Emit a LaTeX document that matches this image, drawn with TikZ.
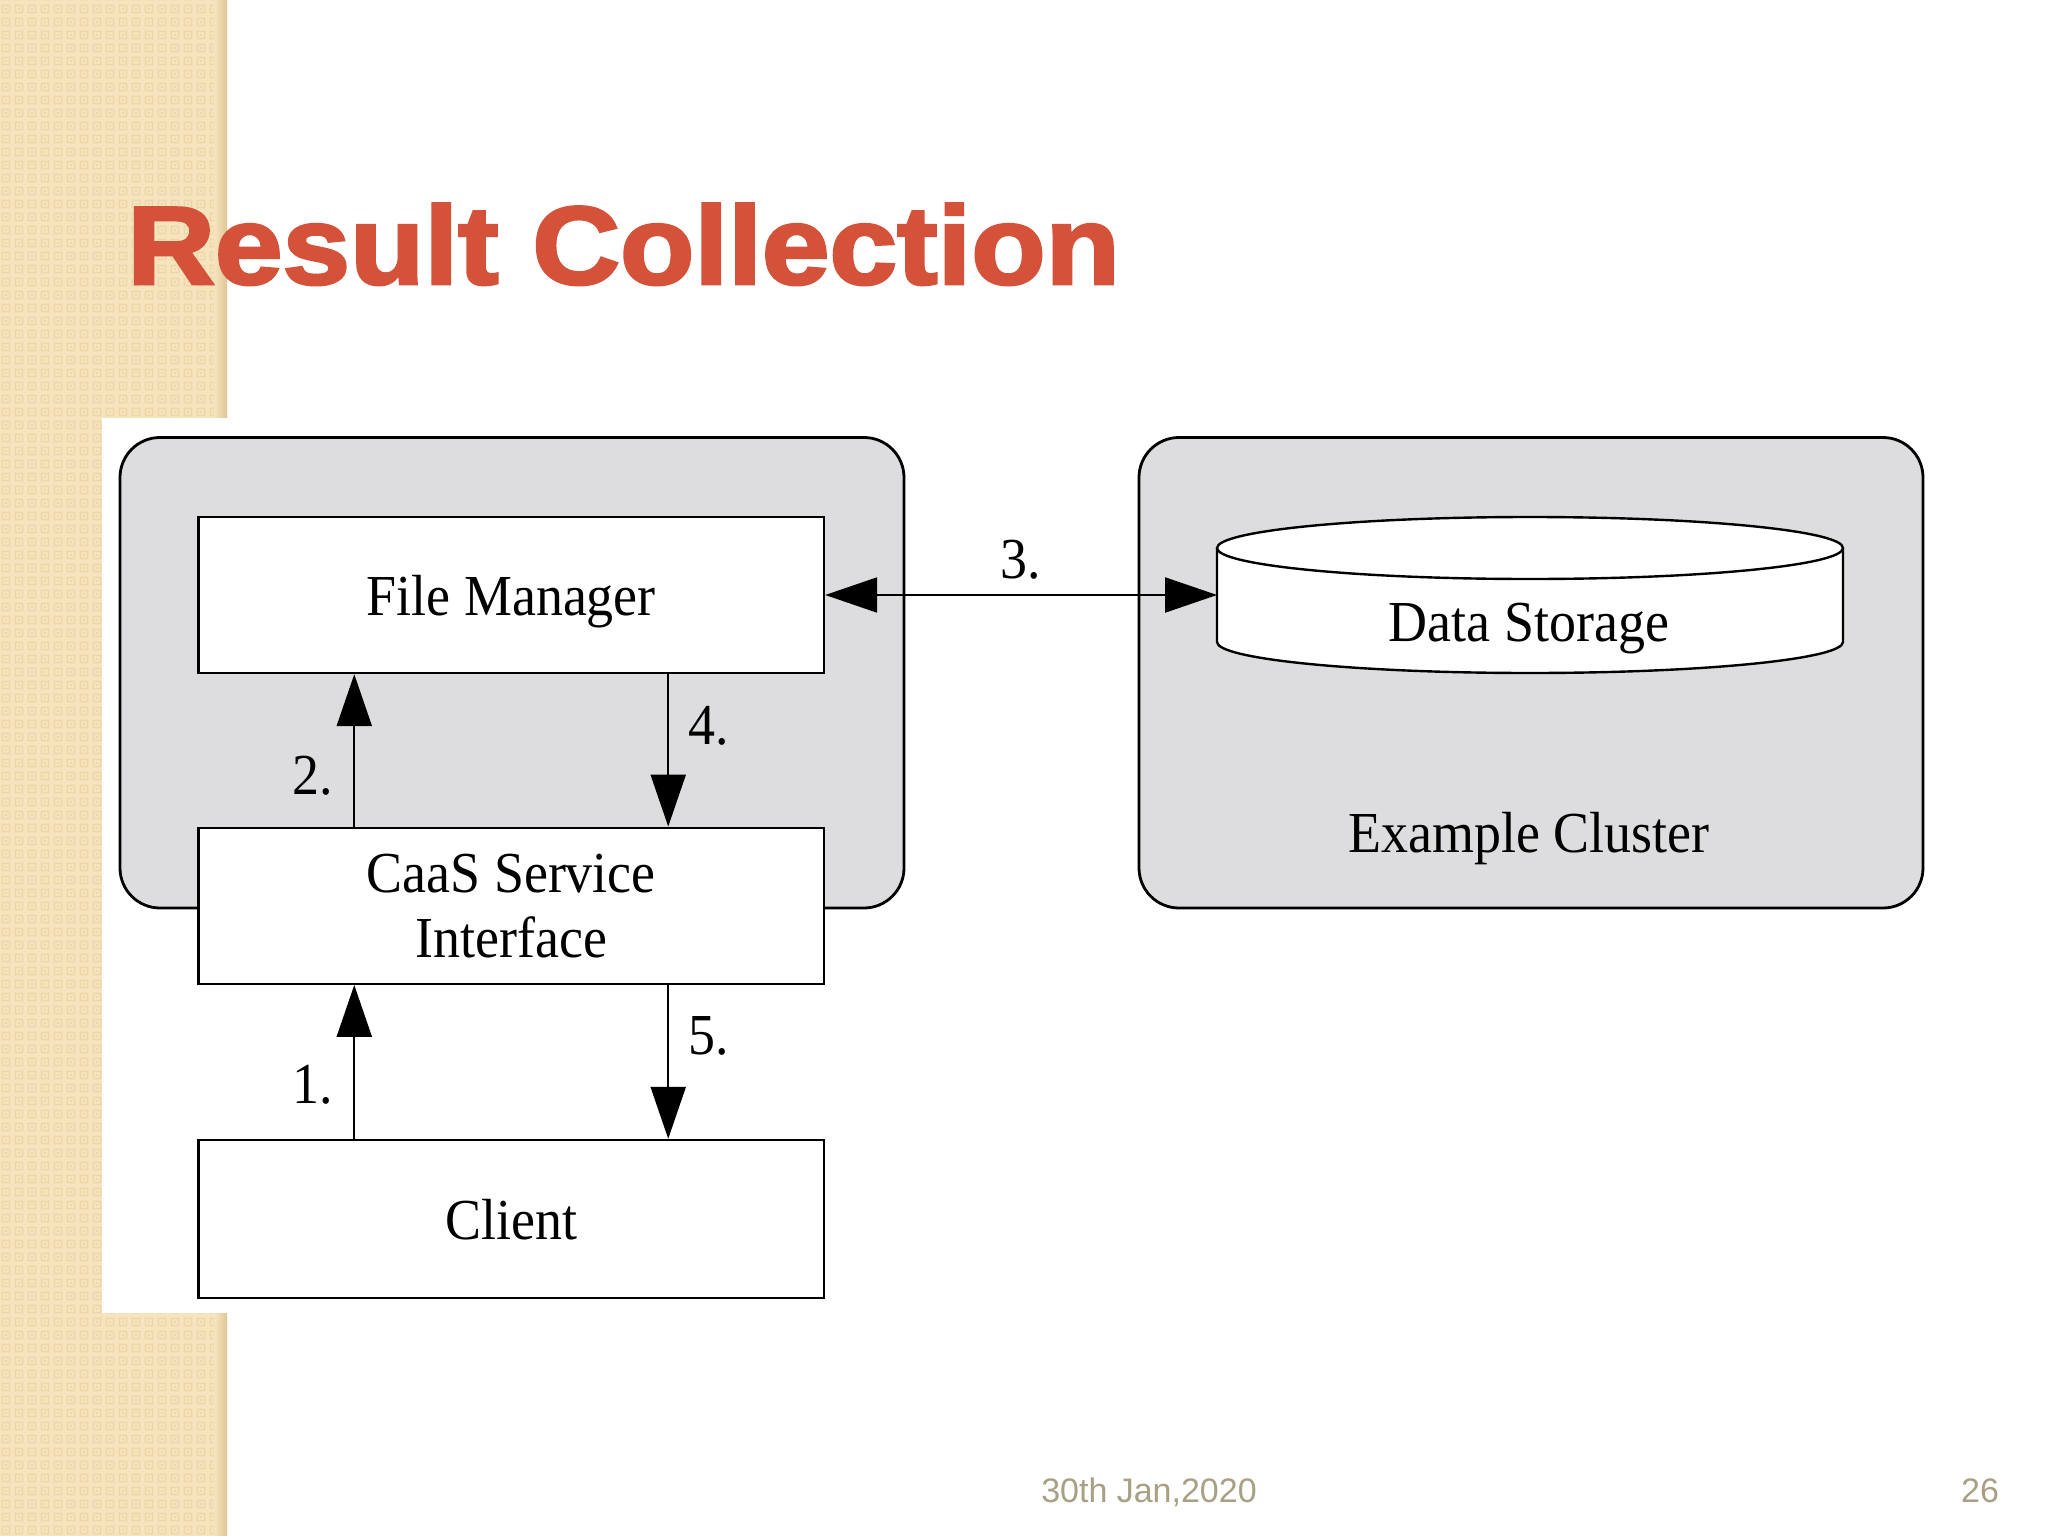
\documentclass[tikz,border=0pt]{standalone}
\usepackage{fontspec}
\usepackage{graphicx}
\setmainfont{Liberation Serif}
\newfontfamily\sansf{Liberation Sans}
\newfontfamily\titlef[FakeBold=2.5]{Liberation Sans Bold}
\usetikzlibrary{arrows.meta,calc,patterns}

\definecolor{titlered}{RGB}{212,82,58}
\definecolor{stripbg}{RGB}{246,228,190}
\definecolor{stripfg}{RGB}{236,214,170}
\definecolor{stripedge}{RGB}{222,200,150}
\definecolor{clustergray}{RGB}{221,221,223}
\definecolor{footgray}{RGB}{168,160,131}

\pgfdeclarepatternformonly{sqgrid}{\pgfpointorigin}{\pgfpoint{12.5pt}{12.5pt}}{\pgfpoint{12.5pt}{12.5pt}}{%
  \pgfsetlinewidth{1.5pt}%
  \pgfpathrectangle{\pgfpoint{2.5pt}{2.5pt}}{\pgfpoint{7.5pt}{7.5pt}}%
  \pgfusepath{stroke}%
  \pgfpathrectangle{\pgfpoint{5.25pt}{5.25pt}}{\pgfpoint{2pt}{2pt}}%
  \pgfusepath{fill}}

\newcommand{\cx}[1]{\scalebox{0.93}[1]{#1}}
\newcommand{\diagfont}{\fontsize{58}{65}\selectfont}

\begin{document}
\begin{tikzpicture}[x=1pt,y=-1pt,
  cluster/.style={draw=black, fill=clustergray, line width=2.8pt, rounded corners=40pt, inner sep=0pt},
  box/.style={draw=black, fill=white, line width=2.4pt, minimum width=625.5pt, minimum height=156pt, inner sep=0pt, font=\diagfont, align=center, text depth=0pt},
  lbl/.style={font=\diagfont, inner sep=0pt, text depth=0pt},
  tip/.tip={Triangle[length=52pt,width=35pt]},
  arr/.style={line width=2.3pt, -tip},
  biarr/.style={line width=2.3pt, tip-tip},
  foot/.style={font=\sansf\fontsize{34}{40}\selectfont, text=footgray, inner sep=0pt, anchor=base}
]
\useasboundingbox (0,0) rectangle (2048,1536);
\fill[white] (0,0) rectangle (2048,1536);
% decorative strip
\fill[stripbg] (0,0) rectangle (227,1536);
\fill[pattern=sqgrid, pattern color=stripfg] (0,0) rectangle (227,1536);
\shade[left color=stripbg, right color=stripedge] (214,0) rectangle (227,1536);
% white backdrop of the figure
\fill[white] (102,418) rectangle (240,1313);

% title
\node[anchor=base west, inner sep=0pt, text=titlered, font=\titlef\fontsize{111}{130}\selectfont] (title) at (127,284) {\scalebox{1.095}[1]{Result Collection}};

% clusters
\node[cluster, minimum width=784pt, minimum height=470.5pt] (lc) at (512,672.75) {};
\node[cluster, minimum width=784pt, minimum height=470.5pt] (rc) at (1531,672.75) {};

% boxes
\node[box] (fm) at (511.25,595) {\cx{File Manager}};
\node[box] (cs) at (511.25,905.75) {\cx{CaaS Service}\\\cx{Interface}};
\node[box, minimum height=158pt] (cl) at (511.25,1219) {\cx{Client}};

% cylinder
\filldraw[fill=white, line width=2.4pt] (1217,548) -- (1217,642)
  .. controls (1217,659.1) and (1357.1,673) .. (1530,673)
  .. controls (1702.9,673) and (1843,659.1) .. (1843,642) -- (1843,548);
\filldraw[fill=white, line width=2.4pt] (1530,548) ellipse [x radius=313pt, y radius=31pt];
\node[lbl] (ds) at (1529,622) {\cx{Data Storage}};
\coordinate (dsL) at (1217,595);
\node[lbl] (ec) at (1529,832) {\cx{Example Cluster}};

% arrows
\draw[arr] ($(cs.north west)!0.25!(cs.north east)$) -- ($(fm.south west)!0.25!(fm.south east)$);
\draw[arr] ($(fm.south west)!0.75!(fm.south east)$) -- ($(cs.north west)!0.75!(cs.north east)$);
\draw[arr] ($(cl.north west)!0.25!(cl.north east)$) -- ($(cs.south west)!0.25!(cs.south east)$);
\draw[arr] ($(cs.south west)!0.75!(cs.south east)$) -- ($(cl.north west)!0.75!(cl.north east)$);
\draw[biarr] (fm.east) -- (dsL);

% step labels
\node[lbl] (l3) at (1021,559) {\cx{3.}};
\node[lbl] (l4) at (709,725) {\cx{4.}};
\node[lbl] (l2) at (313,775) {\cx{2.}};
\node[lbl] (l5) at (709,1036) {\cx{5.}};
\node[lbl] (l1) at (313,1084) {\cx{1.}};

% footer
\node[foot] (date) at (1149,1502) {30th Jan,2020};
\node[foot] (page) at (1980,1502) {26};
\end{tikzpicture}
\end{document}
